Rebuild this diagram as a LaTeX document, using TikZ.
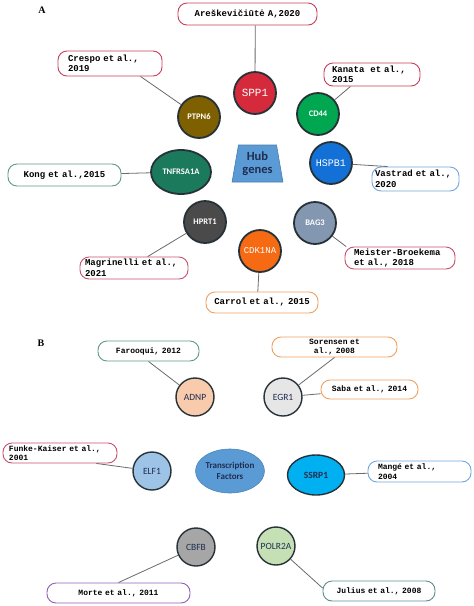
\documentclass[tikz,border=0pt]{standalone}
\usepackage{fontspec}
\setmainfont{Carlito}
\newfontfamily\refmono{Liberation Mono}
\newfontfamily\panelfont{Liberation Serif}
\usepackage{tikz}
\usetikzlibrary{
  shapes.geometric,
  positioning,
  calc
}
\definecolor{geneSPP}{HTML}{D42A3C}
\definecolor{genePTP}{HTML}{7F6000}
\definecolor{geneCD}{HTML}{00A650}
\definecolor{geneTNF}{HTML}{1B7A5C}
\definecolor{geneHSP}{HTML}{1270D6}
\definecolor{geneHPR}{HTML}{4A4A4A}
\definecolor{geneBAG}{HTML}{8497B0}
\definecolor{geneCDK}{HTML}{F56A12}
\definecolor{hubBlue}{HTML}{5B9BD5}
\definecolor{hubText}{HTML}{1F2D50}
\definecolor{edgeDark}{HTML}{263238}
\definecolor{linkGray}{HTML}{6A6A6A}
\definecolor{refRed}{HTML}{C9405A}
\definecolor{refPink}{HTML}{C8506E}
\definecolor{refGreen}{HTML}{5E9A88}
\definecolor{refBlue}{HTML}{6FA8DC}
\definecolor{refOrange}{HTML}{F0A060}
\definecolor{refPurple}{HTML}{9060B8}
\definecolor{refTeal}{HTML}{5E8E8E}
\definecolor{tfPeach}{HTML}{F8CBAD}
\definecolor{tfLight}{HTML}{E7E6E6}
\definecolor{tfSky}{HTML}{9DC3E6}
\definecolor{tfCyan}{HTML}{00B0F0}
\definecolor{tfGray}{HTML}{A6A6A6}
\definecolor{tfGreen}{HTML}{C5E0B4}

\begin{document}
\begin{tikzpicture}[x=1pt, y=-1pt,
  gene/.style={circle, draw=edgeDark, line width=1.8pt, minimum size=42pt,
    inner sep=0pt, text=white, font=\bfseries\fontsize{8.5}{9}\selectfont},
  genemono/.style={gene, font=\refmono\fontsize{10}{10}\selectfont},
  tf/.style={circle, draw=edgeDark, line width=1.4pt, minimum size=38pt,
    inner sep=0pt, text=hubText, font=\fontsize{9.5}{10}\selectfont},
  refbox/.style={draw, fill=white, rounded corners=9pt, line width=0.9pt,
    inner xsep=6pt, inner ysep=1pt, align=center,
    font=\refmono\bfseries\fontsize{9}{10.5}\selectfont},
  refsmall/.style={refbox, font=\refmono\bfseries\fontsize{8}{9.5}\selectfont},
  link/.style={draw=linkGray, line width=0.8pt}]
  \useasboundingbox (0,0) rectangle (474,606);

  % panel A: hub genes
  \node[font=\panelfont\bfseries\fontsize{10}{10}\selectfont] (labA) at (42,10) {A};
  \node[trapezium, trapezium stretches=true, trapezium left angle=78,
    trapezium right angle=78, minimum width=51pt, minimum height=37pt,
    inner sep=0pt, fill=hubBlue, draw=hubBlue!80!black, line width=0.6pt,
    align=center, text=hubText, font=\bfseries\fontsize{12.5}{13}\selectfont]
    (hub) at (257.5,163.5) {Hub\\genes};

  \node[genemono, fill=geneSPP, font=\refmono\fontsize{11}{11}\selectfont] (spp1) at (255,93) {SPP1};
  \node[gene, fill=genePTP] (ptpn6) at (199,117) {PTPN6};
  \node[gene, fill=geneCD] (cd44) at (318,114) {CD44};
  \node[gene, ellipse, fill=geneTNF, minimum width=60pt, minimum height=44pt] (tnfr) at (181,172) {TNFRSA1A};
  \node[genemono, fill=geneHSP] (hspb1) at (331,163) {HSPB1};
  \node[gene, fill=geneHPR] (hprt1) at (205,222) {HPRT1};
  \node[gene, fill=geneBAG] (bag3) at (315,223) {BAG3};
  \node[genemono, fill=geneCDK, font=\refmono\fontsize{9}{9}\selectfont] (cdk1na) at (260,251) {CDK1NA};

  % references A
  \node[refbox, draw=refRed, text width=127pt, minimum height=22pt] (aresk) at (247.5,14) {Areškevičiūtė A,2020};
  \node[refbox, draw=refRed, align=left, inner xsep=10pt, text width=84pt, minimum height=25pt] (crespo) at (110,63.5) {Crespo et al.,\\2019};
  \node[refbox, draw=refRed, align=left, inner xsep=8pt, text width=80pt, minimum height=23pt] (kanata) at (372,74.5) {Kanata\ \ et al.,\\2015};
  \node[refbox, draw=refGreen, text width=101pt, minimum height=22pt] (kong) at (64.5,175) {Kong et al.,2015};
  \node[refbox, draw=refBlue, align=left, inner xsep=3pt, text width=81pt, minimum height=24pt] (vastrad) at (415.5,179) {Vastrad et al.,\\2020};
  \node[refbox, draw=refPink, align=left, inner xsep=5pt, text width=98pt, minimum height=22pt] (magri) at (134,268) {Magrinelli et al.,\\2021};
  \node[refbox, draw=refPink, align=left, inner xsep=9pt, text width=92pt, minimum height=22pt] (meister) at (400,258) {Meister-Broekema\\et al., 2018};
  \node[refbox, draw=refOrange, inner xsep=3pt, text width=106pt, minimum height=21pt] (carrol) at (262,302.5) {Carrol et al., 2015};

  \draw[link] (aresk.-56) -- (spp1);
  \draw[link] (crespo.-23) -- (ptpn6);
  \draw[link] (kanata.209) -- (cd44);
  \draw[link] (kong) -- (tnfr);
  \draw[link] (hspb1) -- (vastrad.156);
  \draw[link] (hprt1) -- (magri.40);
  \draw[link] (bag3) -- (meister.168);
  \draw[link] (cdk1na) -- (carrol.111);

  % panel B: transcription factors
  \node[font=\panelfont\bfseries\fontsize{10}{10}\selectfont] (labB) at (41,343) {B};
  \node[ellipse, fill=hubBlue, draw=hubBlue!85!black, line width=0.6pt,
    minimum width=68pt, minimum height=44pt, inner sep=0pt, align=center,
    text=hubText, font=\bfseries\fontsize{9}{11}\selectfont]
    (tfac) at (230,471) {Transcription\\Factors};

  \node[tf, fill=tfPeach] (adnp) at (195,397) {ADNP};
  \node[tf, fill=tfLight] (egr1) at (283,397) {EGR1};
  \node[tf, fill=tfSky] (elf1) at (152,471) {ELF1};
  \node[tf, ellipse, fill=tfCyan, minimum width=57pt, minimum height=40pt,
    font=\bfseries\fontsize{9.5}{10}\selectfont] (ssrp1) at (316,475) {SSRP1};
  \node[tf, fill=tfGray] (cbfb) at (196,547) {CBFB};
  \node[tf, fill=tfGreen] (polr2a) at (276,546) {POLR2A};

  % references B
  \node[refsmall, draw=refGreen, text width=89pt, minimum height=20pt] (farooqui) at (148.5,351) {Farooqui, 2012};
  \node[refsmall, draw=refOrange, text width=113pt, minimum height=20pt] (sorensen) at (334.5,347) {Sorensen et\\al., 2008};
  \node[refsmall, draw=refOrange, text width=85pt, minimum height=19pt] (saba) at (369.5,389.5) {Saba et al., 2014};
  \node[refsmall, draw=refPink, align=left, text width=102pt, minimum height=20pt] (funke) at (60,453) {Funke-Kaiser et al.,\\2001};
  \node[refsmall, draw=refBlue, align=left, inner xsep=10pt, text width=83pt, minimum height=21pt] (mange) at (419.5,471.5) {Mangé et al.,\\2004};
  \node[refsmall, draw=refPurple, text width=131pt, minimum height=20pt] (morte) at (118.5,593) {Morte et al., 2011};
  \node[refsmall, draw=refTeal, text width=100pt, minimum height=20pt] (julius) at (379,591) {Julius et al., 2008};

  \draw[link] (farooqui.south) -- (adnp);
  \draw[link] (sorensen.south) -- (egr1);
  \draw[link] (egr1) -- (saba);
  \draw[link] (funke.-16) -- (elf1);
  \draw[link] (ssrp1) -- (mange);
  \draw[link] (morte.north) -- (cbfb);
  \draw[link] (polr2a) -- (julius.177);
\end{tikzpicture}
\end{document}
